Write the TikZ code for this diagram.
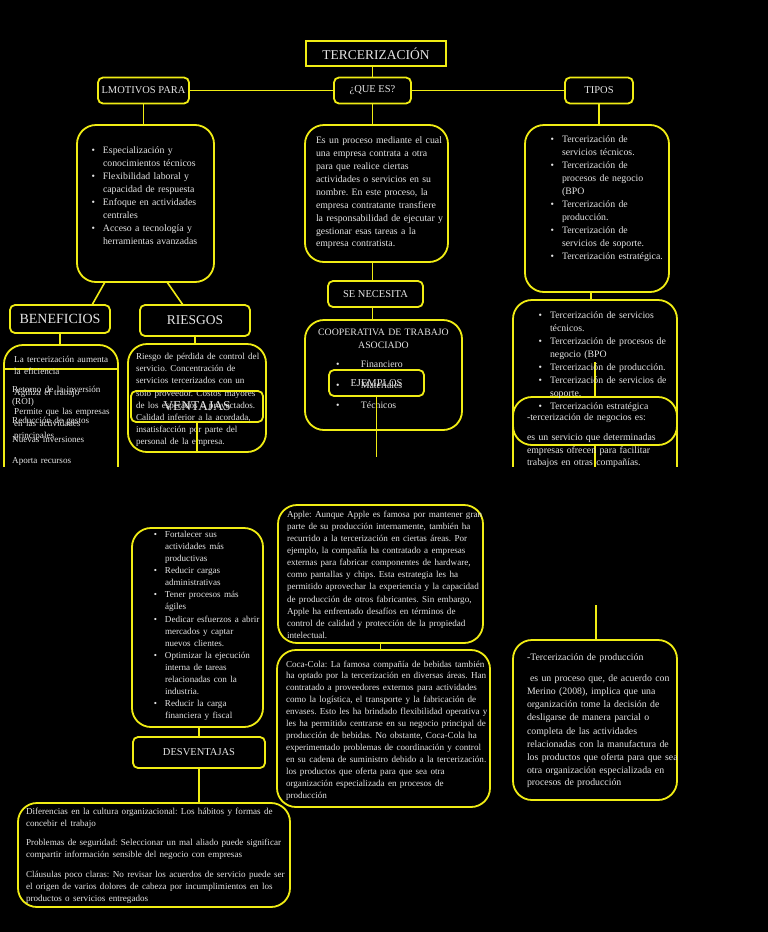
\documentclass[tikz,border=0pt]{standalone}
\usepackage{fontspec}
\setmainfont{Liberation Serif}

\definecolor{lineyl}{RGB}{240,236,20}
\definecolor{txtgr}{RGB}{228,228,228}

\newcommand\fa{\fontsize{9.8}{13}\selectfont\frenchspacing\rightskip=-30pt plus 1fil\relax}
\newcommand\fb{\fontsize{9.1}{12.1}\selectfont\frenchspacing\rightskip=-30pt plus 1fil\relax}
\newcommand\bulfirst{\llap{\textbullet\hspace{8pt}}}
\newcommand\bul{\par\noindent\llap{\textbullet\hspace{8pt}}}

\tikzset{
  lbl/.style={draw=lineyl, line width=1.8pt, rounded corners=5pt, text=txtgr,
    inner sep=0pt, outer sep=0pt, font=\fontsize{10.5}{12}\selectfont},
  card/.style={draw=lineyl, line width=1.8pt, rounded corners=19pt, text=txtgr,
    inner ysep=0pt, outer sep=0pt, anchor=north west},
  txt/.style={text=txtgr, inner sep=0pt},
  conn/.style={draw=lineyl, line width=1.6pt},
}

\begin{document}
\begin{tikzpicture}[x=1pt,y=-1pt]
\fill[black] (0,0) rectangle (768,932);

% top row
\node[lbl, rounded corners=0pt, minimum width=140pt, minimum height=25pt,
  font=\fontsize{13.5}{15}\selectfont] (tit) at (376,53.5) {TERCERIZACIÓN};
\node[lbl, minimum width=91pt, minimum height=26pt] (motivos) at (143.5,90.5) {LMOTIVOS PARA};
\node[lbl, minimum width=77pt, minimum height=26pt] (quees) at (372.5,90.5) {¿QUE ES?};
\node[lbl, minimum width=68pt, minimum height=26pt] (tipos) at (599,90.5) {TIPOS};
\draw[conn] (quees.north |- tit.south) -- (quees.north);
\draw[conn] (motivos) -- (quees);
\draw[conn] (quees) -- (tipos);

% motivos
\node[card, inner xsep=10pt, text width=117pt, text height=28pt, text depth=129pt] (motlist) at (77,125) {\fa\leftskip=16pt
\bulfirst Especialización y\\conocimientos técnicos
\bul Flexibilidad laboral y\\capacidad de respuesta
\bul Enfoque en actividades\\centrales
\bul Acceso a tecnología y\\herramientas avanzadas\par};
\draw[conn] (motivos.south) -- (motivos.south |- motlist.north);

% que es
\node[card, inner xsep=11pt, text width=121pt, text height=18pt, text depth=119pt] (quetxt) at (305,125) {\fa
Es un proceso mediante el cual\\una empresa contrata a otra\\para que realice ciertas\\actividades o servicios en su\\nombre. En este proceso, la\\empresa contratante transfiere\\la responsabilidad de ejecutar y\\gestionar esas tareas a la\\empresa contratista.};
\draw[conn] (quees.south) -- (quees.south |- quetxt.north);

% tipos
\node[card, inner xsep=6pt, text width=132pt, text height=17pt, text depth=150pt] (tiplist) at (525,125) {\fa\leftskip=31pt
\bulfirst Tercerización de\\servicios técnicos.
\bul Tercerización de\\procesos de negocio\\(BPO
\bul Tercerización de\\producción.
\bul Tercerización de\\servicios de soporte.
\bul Tercerización estratégica.\par};
\draw[conn] (tipos.south) -- (tipos.south |- tiplist.north);

% beneficios / riesgos
\node[lbl, minimum width=100pt, minimum height=28pt, font=\fontsize{14}{16}\selectfont] (benef) at (60,319) {BENEFICIOS};
\node[lbl, minimum width=110pt, minimum height=31pt, font=\fontsize{13.5}{15}\selectfont] (riesgos) at (195,320.5) {RIESGOS};
\draw[conn] ([xshift=-40.5pt]motlist.south) -- ([xshift=32pt]benef.north);
\draw[conn] ([xshift=21.5pt]motlist.south) -- ([xshift=-12pt]riesgos.north);

\node[card, inner xsep=8pt, text width=122pt, text height=15.7pt, text depth=92.3pt] (risklist) at (128,344) {\fb
Riesgo de pérdida de control del\\servicio. Concentración de\\servicios tercerizados con un\\solo proveedor. Costos mayores\\de los esperados o proyectados.\\Calidad inferior a la acordada,\\insatisfacción por parte del\\personal de la empresa.};
\draw[conn] (riesgos.south) -- (riesgos.south |- risklist.north);
\node[lbl, minimum width=132pt, minimum height=31pt, font=\fontsize{13.5}{15}\selectfont] (ventajas) at (197,406.5) {VENTAJAS};
\draw[conn] (ventajas.south) -- (ventajas.south |- risklist.south);

% se necesita
\node[lbl, minimum width=95pt, minimum height=26pt] (senec) at (375.5,294) {SE NECESITA};
\node[card, inner xsep=6pt, text width=145pt, text height=15pt, text depth=95pt] (coop) at (305,320) {\fa\centering
COOPERATIVA DE TRABAJO\\ASOCIADO\\[6pt]
\makebox[145pt][l]{\hspace{25pt}\textbullet\hspace{21.5pt}Financiero}\\[8pt]
\makebox[145pt][l]{\hspace{25pt}\textbullet\hspace{21.5pt}Materiales}\\[8pt]
\makebox[145pt][l]{\hspace{25pt}\textbullet\hspace{21.5pt}Técnicos}};
\draw[conn] (quees.south |- quetxt.south) -- (quees.south |- senec.north);
\draw[conn] (quees.south |- senec.south) -- (quees.south |- coop.north);
\node[lbl, minimum width=95pt, minimum height=26pt] (ejem) at (376.5,383) {EJEMPLOS};
\coordinate (ejend) at (377,457);
\draw[conn] (ejem.south) -- (ejem.south |- ejend);

% cut off at the fold
\begin{scope}
  \clip (0,0) rectangle (768,466);
  \node[card, minimum width=114pt, minimum height=150pt] (benlist) at (4,345) {};
  \draw[conn] ([yshift=-24pt]benlist.north west) -- ([yshift=-24pt]benlist.north east);
  \node[txt, anchor=base west, text width=108pt] (bena) at (14,362) {\fb
  La tercerización aumenta\\la eficiencia\\[9pt]Agiliza el trabajo\\[7pt]Permite que las empresas\\en las actividades\\principales};
  \node[txt, anchor=base west, text width=108pt] (benb) at (12,392) {\fb
  Retorno de la inversión\\(ROI)\\[7pt]Reducción de gastos\\[7pt]Nuevas inversiones\\[9pt]Aporta recursos};

  \coordinate (tipjoin) at (591,292);
  \coordinate (tipa) at (595,362);
  \coordinate (tipb) at (595,470);
  \draw[conn] (tipa) -- (tipb);
  \node[card, fill=black, inner xsep=14pt, text width=136pt, text height=23pt, text depth=25pt] (negbox) at (513,397) {\fa
  -tercerización de negocios es:\\[7pt]es un servicio que determinadas\\empresas ofrecen para facilitar\\trabajos en otras compañías. Quien};
  \node[card, inner xsep=8pt, text width=148pt, text height=18pt, text depth=172pt] (tip2) at (513,300) {\fa\leftskip=29pt
  \bulfirst Tercerización de servicios\\técnicos.
  \bul Tercerización de procesos de\\negocio (BPO
  \bul Tercerización de producción.
  \bul Tercerización de servicios de\\soporte.
  \bul Tercerización estratégica\par};
  \draw[conn] (tipjoin) -- (tipjoin |- tip2.north);
\end{scope}
\draw[conn] (benef.south) -- (benef.south |- benlist.north);

% ventajas y desventajas
\node[card, inner xsep=6pt, text width=119pt, text height=9.3pt, text depth=189.7pt] (ventlist) at (132,528) {\fb\leftskip=27pt
\bulfirst Fortalecer sus\\actividades más\\productivas
\bul Reducir cargas\\administrativas
\bul Tener procesos más\\ágiles
\bul Dedicar esfuerzos a abrir\\mercados y captar\\nuevos clientes.
\bul Optimizar la ejecución\\interna de tareas\\relacionadas con la\\industria.
\bul Reducir la carga\\financiera y fiscal\par};
\node[lbl, minimum width=132pt, minimum height=31pt] (desvlabel) at (199,752.5) {DESVENTAJAS};
\draw[conn] (desvlabel.north |- ventlist.south) -- (desvlabel.north);
\node[card, inner xsep=8pt, text width=256pt, text height=11pt, text depth=93pt] (desvbox) at (18,803) {\fb
Diferencias en la cultura organizacional: Los hábitos y formas de\\concebir el trabajo\\[6.8pt]
Problemas de seguridad: Seleccionar un mal aliado puede significar\\compartir información sensible del negocio con empresas\\[7.8pt]
Cláusulas poco claras: No revisar los acuerdos de servicio puede ser\\el origen de varios dolores de cabeza por incumplimientos en los\\productos o servicios entregados};
\draw[conn] (desvlabel.south) -- (desvlabel.south |- desvbox.north);

% ejemplos
\node[card, inner xsep=9pt, text width=187pt, text height=12.3pt, text depth=125.7pt] (apple) at (278,505) {\fb
Apple: Aunque Apple es famosa por mantener gran\\parte de su producción internamente, también ha\\recurrido a la tercerización en ciertas áreas. Por\\ejemplo, la compañía ha contratado a empresas\\externas para fabricar componentes de hardware,\\como pantallas y chips. Esta estrategia les ha\\permitido aprovechar la experiencia y la capacidad\\de producción de otros fabricantes. Sin embargo,\\Apple ha enfrentado desafíos en términos de\\control de calidad y protección de la propiedad\\intelectual.};
\node[card, inner xsep=9pt, text width=195pt, text height=17pt, text depth=140pt] (coca) at (277,650) {\fb\fontsize{9.1}{11.9}\selectfont
Coca-Cola: La famosa compañía de bebidas también\\ha optado por la tercerización en diversas áreas. Han\\contratado a proveedores externos para actividades\\como la logística, el transporte y la fabricación de\\envases. Esto les ha brindado flexibilidad operativa y\\les ha permitido centrarse en su negocio principal de\\producción de bebidas. No obstante, Coca-Cola ha\\experimentado problemas de coordinación y control\\en su cadena de suministro debido a la tercerización.\\los productos que oferta para que sea otra\\organización especializada en procesos de\\producción};
\draw[conn] (apple.south) -- (apple.south |- coca.north);

% produccion
\coordinate (rbtop) at (596,605);
\node[card, inner xsep=14pt, text width=136pt, text height=20pt, text depth=140pt] (rb) at (513,640) {\fa\fontsize{9.8}{13.2}\selectfont
-Tercerización de producción\\[8pt]\hspace*{3pt}es un proceso que, de acuerdo con\\Merino (2008), implica que una\\organización tome la decisión de\\desligarse de manera parcial o\\completa de las actividades\\relacionadas con la manufactura de\\los productos que oferta para que sea\\otra organización especializada en\\procesos de producción};
\draw[conn] (rbtop) -- (rbtop |- rb.north);
\end{tikzpicture}
\end{document}
